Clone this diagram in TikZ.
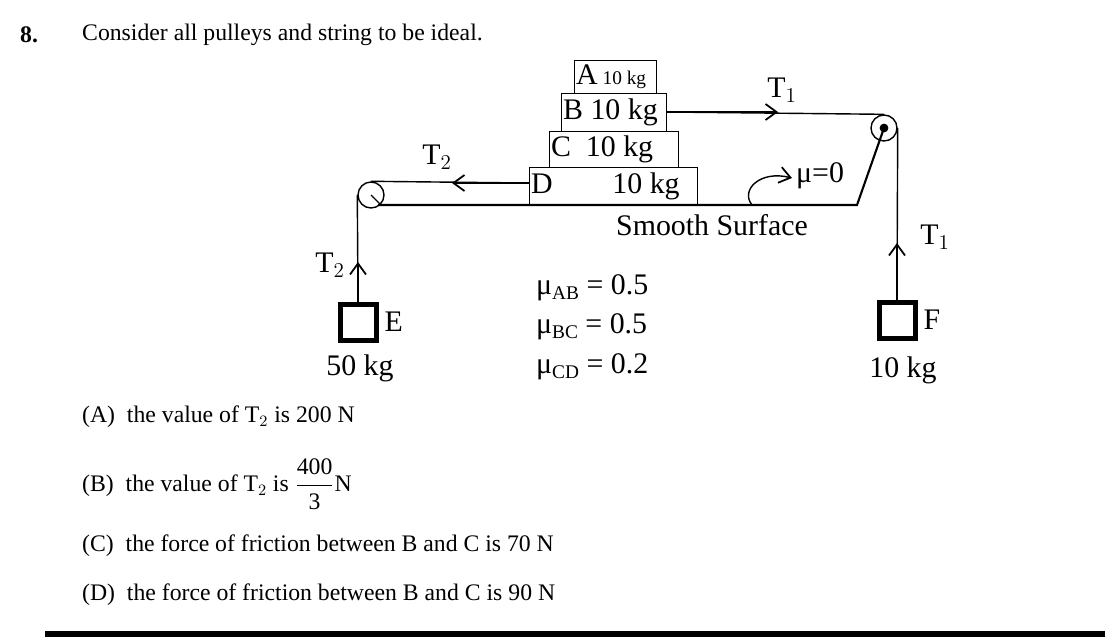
\documentclass[tikz,border=0pt]{standalone}
\usepackage{amsmath}
\usepackage{fontspec}
\setmainfont{Liberation Serif}
\usetikzlibrary{positioning,arrows,arrows.meta}

\begin{document}
\begin{tikzpicture}[x=0.02cm,y=-0.02cm,every node/.style={font=\fontsize{13.5}{15}\selectfont},
	>={Straight Barb[length=2.2mm,width=3.2mm,line width=1pt]},
	blk/.style={draw=black,thick,inner sep=0pt,anchor=north west},
	mass/.style={draw=black,line width=1mm,minimum size=0.72cm,inner sep=0pt},
	pul/.style={circle,draw=black,thick,minimum size=0.52cm,inner sep=0pt},
	big/.style={font=\fontsize{17}{18}\selectfont}]
	\useasboundingbox (0,0) rectangle (1105,640);
	% question
	\node[anchor=west,font=\fontsize{13.5}{15}\selectfont\bfseries] (num) at (14,35) {8.};
	\node[anchor=west] (q) at (76,35) {Consider all pulleys and string to be ideal.};

	% blocks
	\node [blk,minimum width=1.64cm,minimum height=0.66cm] (A) at (574,60) {};
	\node [blk,minimum width=2.1cm,minimum height=0.76cm] (B) at (561,93) {};
	\node [blk,minimum width=2.58cm,minimum height=0.72cm] (C) at (549,131) {};
	\node [blk,minimum width=3.36cm,minimum height=0.76cm] (D) at (529,167) {};
	\node [anchor=west,inner sep=1pt,big] at (A.west) {A\,{\fontsize{11}{12}\selectfont 10 kg}};
	\node [anchor=west,inner sep=1pt,big] at (B.west) {B 10 kg};
	\node [anchor=west,inner sep=1pt,big] at (C.west) {C\ \ 10 kg};
	\node [anchor=west,inner sep=1pt,big] at (D.west) {D\qquad 10 kg};

	% pulleys
	\node [pul] (p1) at (884,128) {};
	\node [pul] (p2) at (371,195) {};
	\fill (p1.center) circle (2.5pt);
	\draw[thick] (p2.center) -- (p2.-45);

	% surface
	\coordinate (s1) at (378,205);
	\coordinate (s2) at (857,205);
	\draw[line width=1.2pt] (s1) -- (s2) -- (p1.center);
	\node [big] (smooth) at (712,225) {Smooth Surface};
	\coordinate (c1) at (752,205);
	\draw[->,thick] (c1) .. controls (740,190) and (760,170) .. (792,178);
	\node [anchor=west,big] (mu0) at (790,176) {μ=0};

	% masses
	\node [mass] (E) at (358,322) {};
	\node [mass] (F) at (897,320) {};
	\node [anchor=west,big] at (E.east) {E};
	\node [anchor=west,big] at (F.east) {F};
	\node [big] (mE) at (360,368) {50 kg};
	\node [big] (mF) at (903,370) {10 kg};

	% strings
	\coordinate (b1) at (666,112);
	\draw[thick] (b1) -- (p1.north);
	\draw[->,thick] (b1) -- (778,112);
	\node [big] at (782,90) {T$_1$};
	\draw[thick] (p1.east) -- (F.north);
	\draw[->,thick] (F.north) -- (897,243);
	\node [big] at (935,237) {T$_1$};
	\coordinate (d1) at (529,183);
	\draw[thick] (d1) -- (p2.north);
	\draw[->,thick] (d1) -- (452,183);
	\node [big] at (437,157) {T$_2$};
	\draw[thick] (p2.west) -- (E.north);
	\draw[->,thick] (E.north) -- (358,262);
	\node [big] at (330,265) {T$_2$};

	% friction data
	\node [anchor=west,big] (m1) at (530,288) {μ{\fontsize{11}{12}\selectfont\raisebox{-0.5ex}{AB}} = 0.5};
	\node [anchor=west,big] (m2) at (530,327) {μ{\fontsize{11}{12}\selectfont\raisebox{-0.5ex}{BC}} = 0.5};
	\node [anchor=west,big] (m3) at (530,367) {μ{\fontsize{11}{12}\selectfont\raisebox{-0.5ex}{CD}} = 0.2};

	% options
	\node [anchor=west] (oa) at (76,417) {(A)\ \ the value of T$_2$ is 200 N};
	\node [anchor=west] (ob) at (76,484) {(B)\ \ the value of T$_2$ is $\dfrac{\text{400}}{\text{3}}$N};
	\node [anchor=west] (oc) at (76,546) {(C)\ \ the force of friction between B and C is 70 N};
	\node [anchor=west] (od) at (76,595) {(D)\ \ the force of friction between B and C is 90 N};
	\draw[line width=1.3mm] (45,634) -- (1105,634);
\end{tikzpicture}
\end{document}
